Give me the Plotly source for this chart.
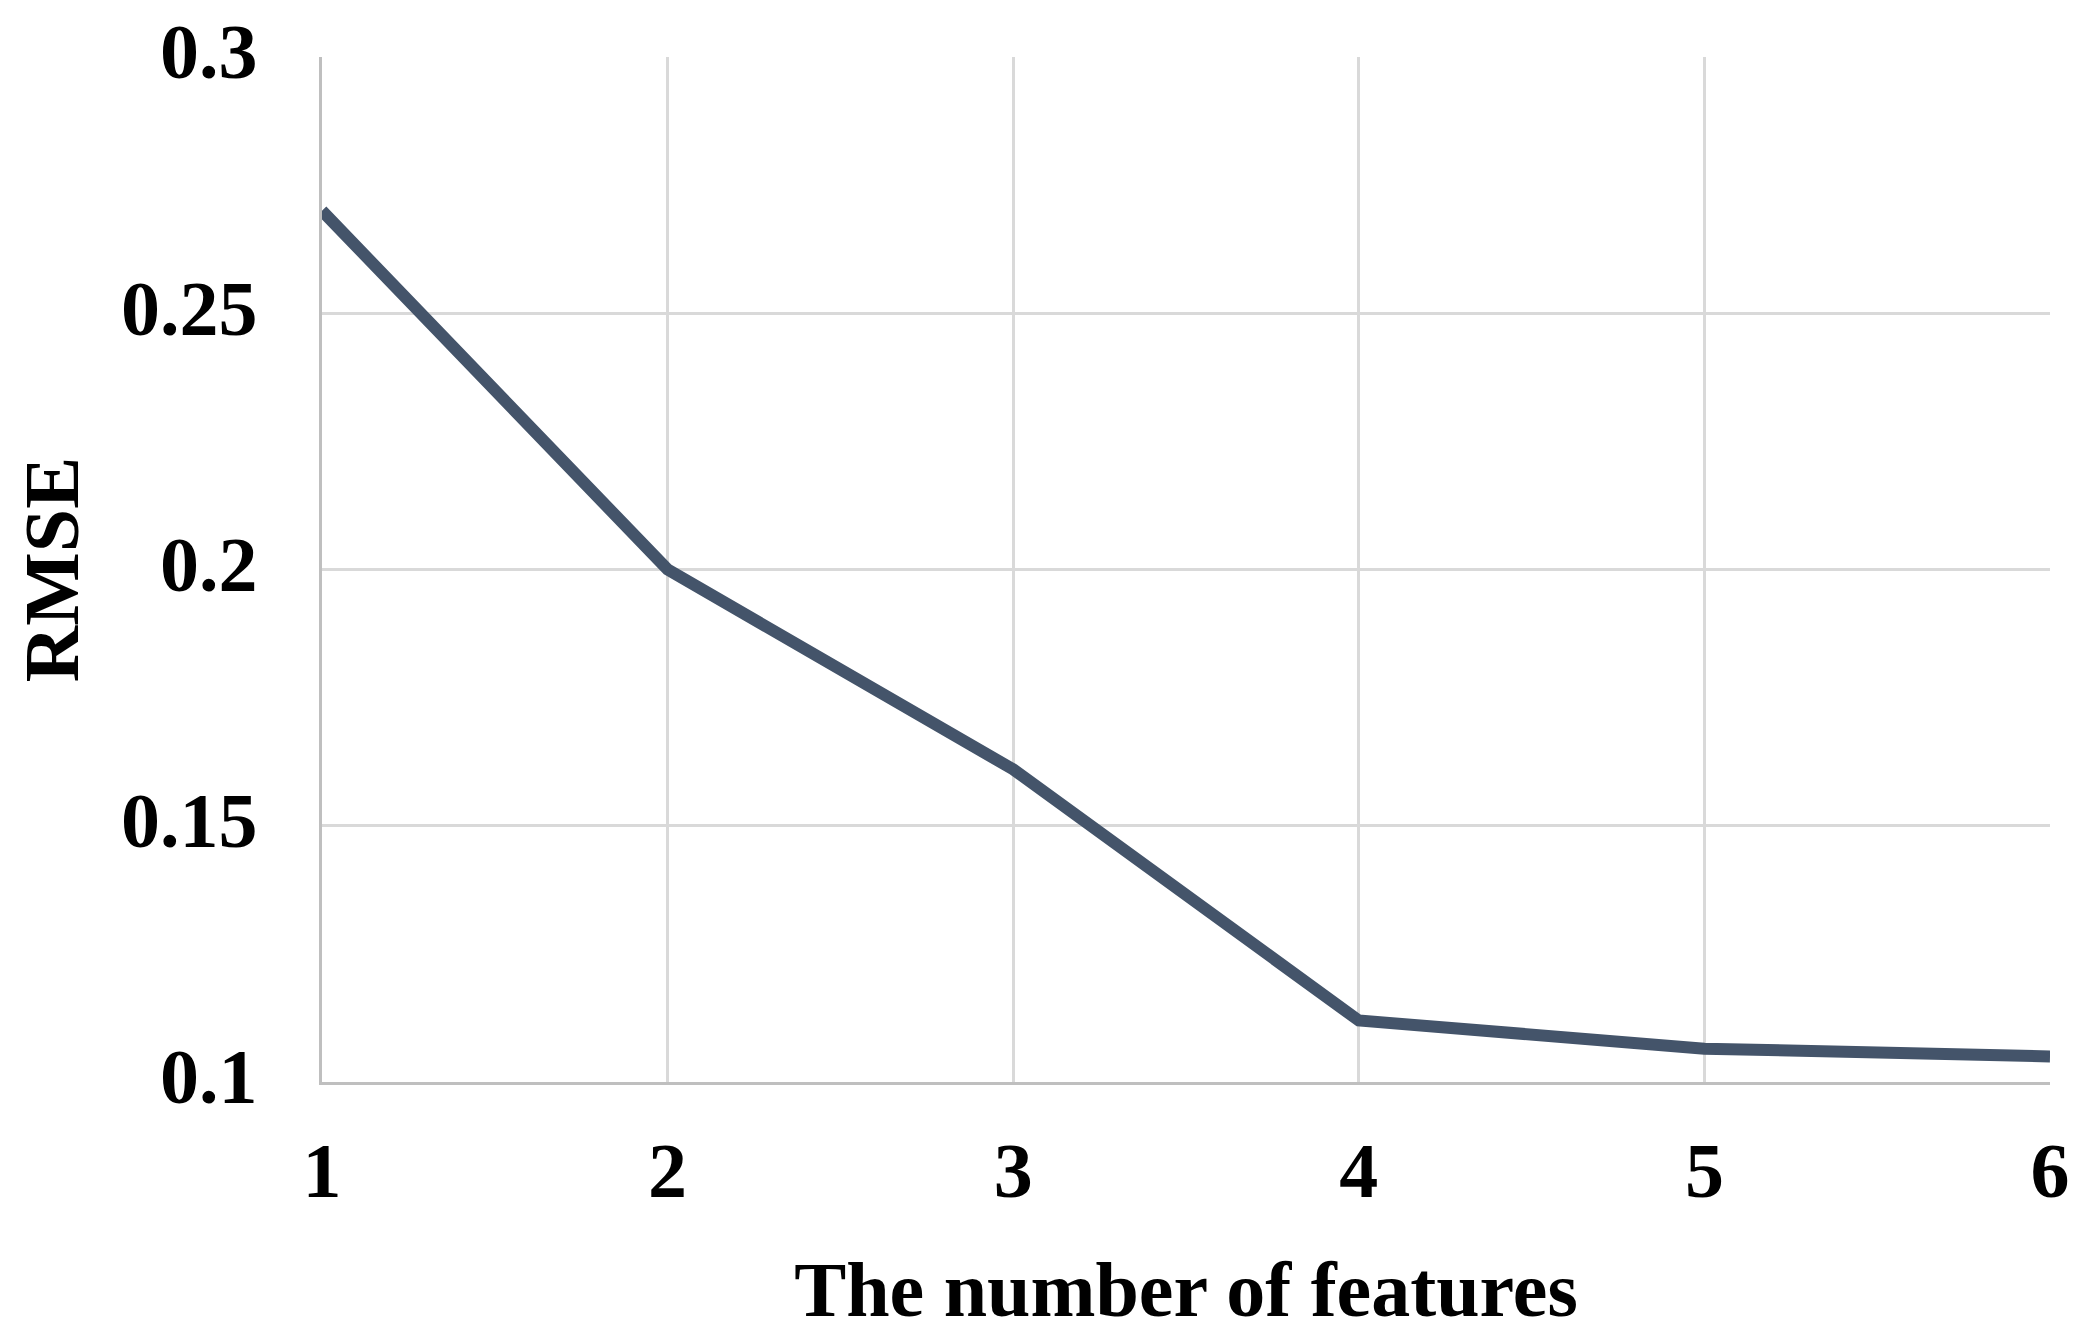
import plotly.graph_objects as go

# number of features vs RMSE
n_features = [1, 2, 3, 4, 5, 6]
rmse = [0.270, 0.200, 0.161, 0.112, 0.1065, 0.105]

y_ticks = [0.1, 0.15, 0.2, 0.25, 0.3]
y_tick_labels = ["0.1", "0.15", "0.2", "0.25", "0.3"]

font_main = dict(family="Liberation Serif, Times New Roman, serif", size=78, color="black", weight="bold")

fig = go.Figure()
fig.add_trace(go.Scatter(x=n_features, y=rmse, mode="lines",
                         line=dict(color="#44546A", width=12), showlegend=False))

fig.update_layout(
    width=2094,
    height=1341,
    margin=dict(l=314, r=52, t=49, b=267),
    plot_bgcolor="white",
    paper_bgcolor="white",
    font=font_main,
    xaxis=dict(
        range=[1, 6],
        tickvals=n_features,
        showgrid=True, gridcolor="#d9d9d9", gridwidth=3,
        showline=True, linecolor="#bfbfbf", linewidth=3,
        zeroline=False,
        ticks="",
        ticklabelstandoff=18,
        tickfont=font_main,
        title=dict(text="The number of features", font=font_main, standoff=49),
        automargin=False,
    ),
    yaxis=dict(
        range=[0.1, 0.3],
        tickvals=y_ticks,
        ticktext=y_tick_labels,
        showgrid=True, gridcolor="#d9d9d9", gridwidth=3,
        showline=True, linecolor="#bfbfbf", linewidth=3,
        zeroline=False,
        ticks="",
        ticklabelstandoff=46,
        ticklabelshift=-6,
        ticklabeloverflow="allow",
        tickfont=font_main,
        title=dict(text="RMSE", font=font_main, standoff=35),
        automargin=False,
    ),
)

fig.write_html("out.html")
